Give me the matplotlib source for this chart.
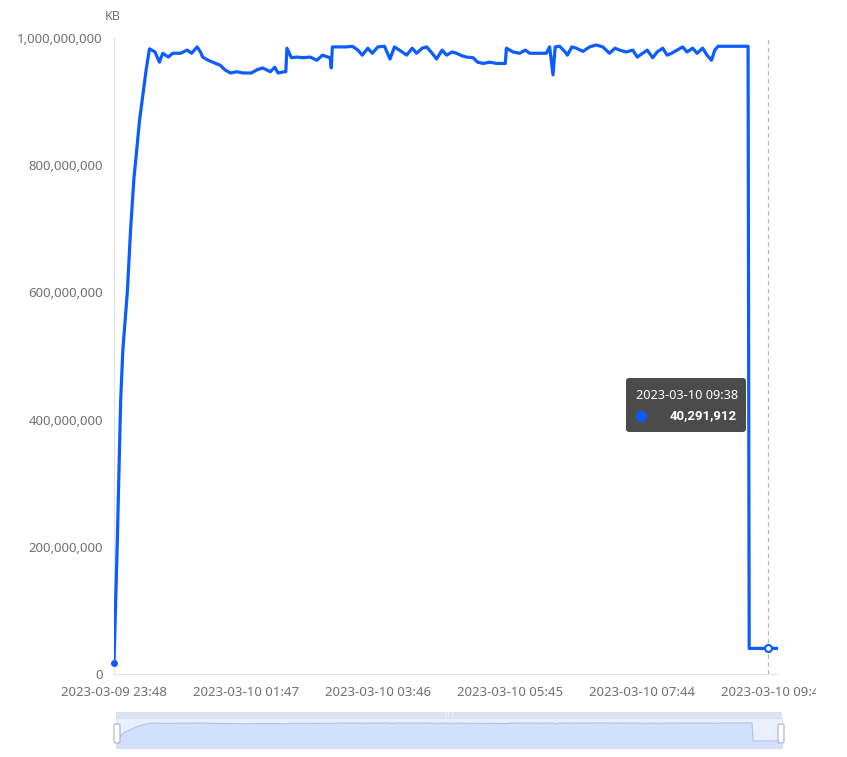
import matplotlib
matplotlib.use("Agg")
import matplotlib.pyplot as plt
from matplotlib.patches import FancyBboxPatch, Rectangle
from matplotlib.transforms import Bbox, TransformedBbox
import numpy as np

plt.rcParams['font.family'] = ['Noto Sans', 'DejaVu Sans']

# minutes after 2023-03-09 23:48, values in millions of KB
minutes = [0, 3, 6, 8, 12, 15, 18, 20, 23, 26, 29, 32, 37, 41, 44, 49, 53, 60,
           66, 70, 75, 78, 80, 85, 89, 96, 100, 105, 111, 116, 124, 129, 134,
           141, 145, 148, 154, 155, 156, 160, 165, 170, 177, 183, 188, 193,
           195, 196, 197, 204, 210, 215, 220, 224, 229, 233, 238, 244, 249,
           253, 260, 264, 269, 273, 278, 282, 287, 291, 296, 300, 305, 309,
           314, 318, 324, 328, 333, 339, 345, 351, 353, 354, 360, 366, 371,
           375, 384, 390, 393, 396, 398, 402, 407, 409, 413, 417, 423, 429,
           435, 441, 447, 452, 456, 462, 468, 472, 477, 481, 486, 490, 495,
           499, 503, 508, 513, 517, 522, 526, 531, 535, 539, 542, 545, 555,
           572, 573, 580, 590, 599]
values_m = [17, 210, 430, 510, 600, 700, 780, 815, 870, 910, 950, 983, 978,
            962, 976, 970, 976, 976, 981, 976, 986, 978, 970, 965, 962, 957,
            950, 945, 947, 945, 945, 950, 953, 947, 954, 945, 947, 947, 984,
            969, 970, 969, 970, 965, 973, 970, 969, 953, 986, 986, 986, 987,
            981, 973, 984, 976, 986, 987, 967, 986, 978, 973, 984, 976, 984,
            986, 976, 967, 981, 973, 978, 976, 972, 970, 969, 962, 960, 962,
            960, 960, 960, 984, 978, 976, 981, 976, 976, 976, 986, 942, 986,
            987, 978, 973, 986, 984, 979, 986, 989, 986, 976, 984, 981, 978,
            981, 970, 976, 981, 969, 978, 984, 973, 976, 981, 986, 978, 984,
            976, 984, 973, 965, 981, 987, 987, 987, 40.29, 40.29, 40.291912,
            40.29]

tick_minutes = [0, 119, 238, 357, 476, 595]
tick_labels = ['2023-03-09 23:48', '2023-03-10 01:47', '2023-03-10 03:46',
               '2023-03-10 05:45', '2023-03-10 07:44', '2023-03-10 09:43']
y_ticks = [0, 200e6, 400e6, 600e6, 800e6, 1000e6]

hover_minute = 590
hover_label = '2023-03-10 09:38'

x = np.array(minutes)
y = np.array(values_m) * 1e6

W, H = 847, 757
fig = plt.figure(figsize=(W / 100, H / 100), dpi=100)

line_color = '#0c5cff'
label_color = '#6e7079'

ax = fig.add_axes([114 / W, 1 - 674 / H, (778 - 114) / W, (674 - 38) / H])
ax.plot(x, y, color=line_color, lw=2.3, solid_joinstyle='round', zorder=3)
ax.plot(x[0], y[0], 'o', color=line_color, ms=4, zorder=4, clip_on=False)
hv = y[minutes.index(hover_minute)]
ax.plot(hover_minute, hv, 'o', mfc='white', mec=line_color, mew=1.5, ms=5, zorder=5)
ax.axvline(hover_minute, color='#b0b3bc', lw=0.8, ls=(0, (4, 3)), zorder=2)

ax.set_xlim(0, 599)
ax.set_ylim(0, 1e9)
ax.set_xticks(tick_minutes)
ax.set_xticklabels(tick_labels)
ax.set_yticks(y_ticks)
ax.set_yticklabels([f'{int(v):,}' for v in y_ticks])
ax.tick_params(axis='both', colors=label_color, labelsize=9.5, length=0)
ax.tick_params(axis='x', pad=9)
ax.tick_params(axis='y', pad=8)
for s in ['top', 'right']:
    ax.spines[s].set_visible(False)
ax.spines['left'].set_color('#e0e2e8')
ax.spines['bottom'].set_color('#e0e2e8')

# last x label is cut at the chart edge
fig.canvas.draw()
lab = ax.get_xticklabels()[-1]
lab.set_clip_on(True)
lab.set_clip_box(TransformedBbox(Bbox([[0, 0], [816 / W, 1]]), fig.transFigure))

fig.text(113 / W, 1 - 17 / H, 'KB', color=label_color, fontsize=9,
         ha='center', va='center')

# tooltip
tip = FancyBboxPatch((626 / W, 1 - 432 / H), 120 / W, 54 / H,
                     boxstyle='round,pad=0,rounding_size=0.004',
                     transform=fig.transFigure, fc='#4b4b4b', ec='none',
                     zorder=10)
fig.patches.append(tip)
fig.text(636 / W, 1 - 395 / H, hover_label, color='white', fontsize=9.2,
         ha='left', va='center', zorder=11)
fig.text(737 / W, 1 - 416 / H, f'{int(round(hv)):,}', color='white',
         fontsize=9.5, fontweight='bold', ha='right', va='center', zorder=11,
         family=['Roboto', 'DejaVu Sans'])
fig.lines.append(plt.Line2D([641 / W], [1 - 416 / H], marker='o', ms=7,
                            color=line_color, transform=fig.transFigure,
                            zorder=11))

# data zoom slider
sx = fig.add_axes([116 / W, 1 - 748 / H, (782 - 116) / W, (748 - 718) / H])
sx.set_xlim(0, 599)
sx.set_ylim(-330, 1250)
sx.set_facecolor('#e9effc')
sx.fill_between(x, -330, np.array(values_m), color='#d3e0fb', lw=0)
sx.plot(x, values_m, color='#a9bff3', lw=0.8)
sx.set_xticks([])
sx.set_yticks([])
for s in sx.spines.values():
    s.set_color('#d6dcea')
    s.set_linewidth(0.6)
fig.patches.append(Rectangle((116 / W, 1 - 718 / H), (782 - 116) / W, 6 / H,
                             transform=fig.transFigure, fc='#dbe2f0',
                             ec='none'))
fig.text(449 / W, 1 - 715 / H, '|||', color='white', fontsize=5,
         ha='center', va='center', fontweight='bold')
for hx in (117, 781):
    fig.patches.append(FancyBboxPatch(((hx - 3) / W, 1 - 743 / H), 6 / W,
                                      19 / H,
                                      boxstyle='round,pad=0,rounding_size=0.002',
                                      transform=fig.transFigure, fc='white',
                                      ec='#a7b0c4', lw=0.8, zorder=5))

plt.savefig('out.png', dpi=100)
